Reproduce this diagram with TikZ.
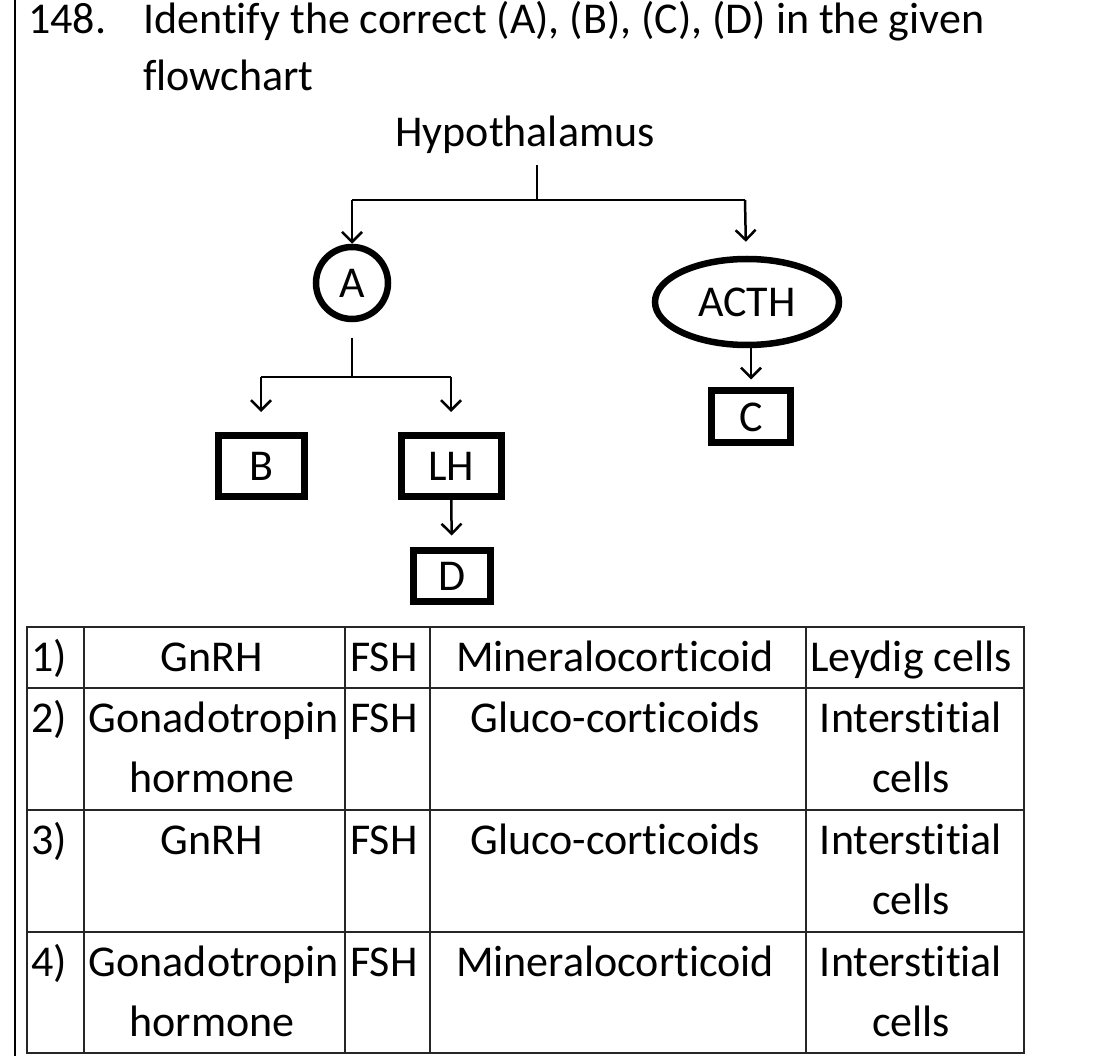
\documentclass[tikz,border=0pt]{standalone}
\usepackage{fontspec}
\setmainfont{Carlito}[Ligatures=NoCommon]
\usetikzlibrary{shapes.geometric,arrows.meta}

\begin{document}
\begin{tikzpicture}[x=1pt,y=-1pt,
  every node/.style={font=\fontsize{44}{52}\selectfont, inner sep=0pt},
  txt/.style={anchor=base},
  thickbox/.style={draw, rectangle, line width=7pt},
  link/.style={line width=2.5pt},
  arr/.style={line width=2.5pt, -{Straight Barb[length=10pt,width=20pt]}},
  tablerule/.style={line width=1.8pt, black!85}]
  \useasboundingbox (0,0) rectangle (1104,1056);
  \draw[line width=2.5pt] (15,0) -- (15,1056);

  % question
  \node[txt, anchor=base west] (num) at (28,34) {148.};
  \node[txt, anchor=base west] (q1) at (143,34) {Identify the correct (A), (B), (C), (D) in the given};
  \node[txt, anchor=base west] (q2) at (143,91) {flowchart};

  % flowchart
  \node (hypo) at (525,135) {Hypothalamus};
  \coordinate (hstem) at (537,165);
  \coordinate (hjoin) at (537,200);
  \coordinate (hl) at (352,200);
  \coordinate (hr) at (745,200);
  \node[circle, draw, line width=6.5pt, minimum size=72pt] (a) at (352,283) {A};
  \node[ellipse, draw, line width=6.5pt, minimum width=184pt, minimum height=86pt] (acth) at (747,302) {ACTH};
  \coordinate (astem) at (352,338);
  \coordinate (ajoin) at (352,377);
  \coordinate (al) at (261,377);
  \coordinate (ar) at (451,377);
  \node[thickbox, minimum width=86pt, minimum height=61pt] (b) at (261,466) {B};
  \node[thickbox, minimum width=100pt, minimum height=61pt] (lh) at (451,466) {LH};
  \node[thickbox, minimum width=77pt, minimum height=50pt] (d) at (452,576) {D};
  \node[thickbox, minimum width=79pt, minimum height=52pt] (c) at (751,417) {C};

  \draw[link] (hstem) -- (hjoin);
  \draw[link] (hl) -- (hr);
  \draw[arr] (hl) -- (a);
  \draw[arr, shorten >=14pt] (hr) -- (acth);
  \draw[link] (astem) -- (ajoin);
  \draw[link] (al) -- (ar);
  \draw[arr, shorten >=20pt] (al) -- (b);
  \draw[arr, shorten >=20pt] (ar) -- (lh);
  \draw[arr, shorten >=12pt] (lh) -- (d);
  \draw[arr, shorten >=8pt] (acth.south -| c) -- (c);

  % options table
  \draw[tablerule] (27,627) rectangle (1024,1053);
  \foreach \y in {688,810,932} \draw[tablerule] (27,\y) -- (1024,\y);
  \foreach \x in {84,345,430,806} \draw[tablerule] (\x,627) -- (\x,1053);

  \node[txt, anchor=base west] (n1) at (31,671) {1)};
  \node[txt] (g1) at (212,671) {GnRH};
  \node[txt] (f1) at (384,671) {FSH};
  \node[txt] (h1) at (615,671) {Mineralocorticoid};
  \node[txt] (l1) at (911,671) {Leydig cells};

  \node[txt, anchor=base west] (n2) at (31,732) {2)};
  \node[txt] (g2) at (214,732) {Gonadotropin};
  \node[txt] (g2b) at (212,792) {hormone};
  \node[txt] (f2) at (384,732) {FSH};
  \node[txt] (h2) at (615,732) {Gluco-corticoids};
  \node[txt] (l2) at (911,732) {Interstitial};
  \node[txt] (l2b) at (911,792) {cells};

  \node[txt, anchor=base west] (n3) at (31,854) {3)};
  \node[txt] (g3) at (212,854) {GnRH};
  \node[txt] (f3) at (384,854) {FSH};
  \node[txt] (h3) at (615,854) {Gluco-corticoids};
  \node[txt] (l3) at (911,854) {Interstitial};
  \node[txt] (l3b) at (911,914) {cells};

  \node[txt, anchor=base west] (n4) at (31,976) {4)};
  \node[txt] (g4) at (214,976) {Gonadotropin};
  \node[txt] (g4b) at (212,1036) {hormone};
  \node[txt] (f4) at (384,976) {FSH};
  \node[txt] (h4) at (615,976) {Mineralocorticoid};
  \node[txt] (l4) at (911,976) {Interstitial};
  \node[txt] (l4b) at (911,1036) {cells};
\end{tikzpicture}
\end{document}
